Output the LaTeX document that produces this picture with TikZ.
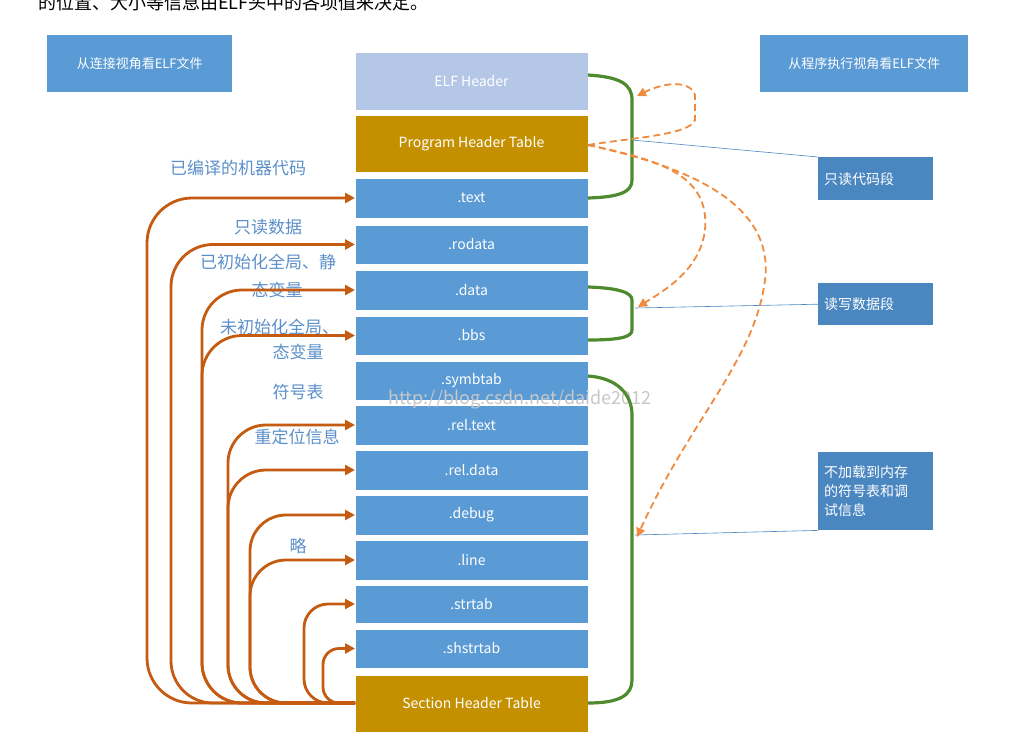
\documentclass[tikz,border=0pt]{standalone}
\usepackage{fontspec}
\setmainfont{Noto Sans CJK SC}
\usetikzlibrary{arrows.meta}
\definecolor{blk}{HTML}{5B9BD5}
\definecolor{lblue}{HTML}{B4C7E7}
\definecolor{gold}{HTML}{C49000}
\definecolor{oarr}{HTML}{C55A11}
\definecolor{odash}{HTML}{F08A3E}
\definecolor{gbr}{HTML}{4E8A2E}
\definecolor{lab}{HTML}{5B8FC9}
\definecolor{sbox}{HTML}{4A86C0}
\tikzset{
  sec/.style={draw=white,line width=0pt,fill=blk,minimum width=233,anchor=north west,text=white,font=\fontsize{14}{14}\selectfont,inner sep=0},
  ttl/.style={fill=blk,minimum width=185,minimum height=57,anchor=north west,text=white,font=\fontsize{13}{13}\selectfont},
  sbx/.style={fill=sbox,anchor=north west,text=white,font=\fontsize{14}{16}\selectfont,inner sep=6,align=left,text width=103},
  lbl/.style={text=lab,font=\fontsize{17}{17}\selectfont,inner sep=0},
  oa/.style={draw=oarr,line width=2.8pt,-{Triangle[length=10pt,width=10pt]}},
  od/.style={draw=odash,line width=1.8pt,dash pattern=on 7pt off 4pt,-{Triangle[length=9pt,width=9pt]}},
  gb/.style={draw=gbr,line width=3.2pt},
  tl/.style={draw=sbox,line width=0.6pt}
}
\begin{document}
\begin{tikzpicture}[x=1pt,y=-1pt]
\useasboundingbox (0,0) rectangle (1035,753);
\node[anchor=west,inner sep=0,font=\fontsize{18}{18}\selectfont] (top) at (38,3) {的位置、大小等信息由ELF头中的各项值来决定。};
\node[ttl] (lv) at (47,35) {从连接视角看ELF文件};
\node[ttl,minimum width=208] (rv) at (760,35) {从程序执行视角看ELF文件};
% labels (behind column)
\node[lbl] (l1) at (238,168) {已编译的机器代码};
\node[lbl] (l2) at (268,227) {只读数据};
\node[lbl,anchor=west] (l3) at (200,262) {已初始化全局、静};
\node[lbl] (l3b) at (277,290) {态变量};
\node[lbl,anchor=west] (l4) at (220,327) {未初始化全局、};
\node[lbl] (l4b) at (298,352) {态变量};
\node[lbl] (l5) at (298,392) {符号表};
\node[lbl] (l6) at (297,437) {重定位信息};
\node[lbl] (l7) at (298,546) {略};
% column
\node[sec,fill=lblue,minimum height=58] (elf) at (355,52) {ELF Header};
\node[sec,fill=gold,minimum height=57] (pht) at (355,115) {Program Header Table};
\node[sec,minimum height=40] (text) at (355,178) {.text};
\node[sec,minimum height=39] (rodata) at (355,225) {.rodata};
\node[sec,minimum height=40] (data) at (355,270) {.data};
\node[sec,minimum height=39] (bbs) at (355,316) {.bbs};
\node[sec,minimum height=39] (symtab) at (355,361) {.symbtab};
\node[sec,minimum height=40] (reltext) at (355,405) {.rel.text};
\node[sec,minimum height=40] (reldata) at (355,450) {.rel.data};
\node[sec,minimum height=40] (debug) at (355,495) {.debug};
\node[sec,minimum height=40] (line) at (355,540) {.line};
\node[sec,minimum height=38] (strtab) at (355,585) {.strtab};
\node[sec,minimum height=39] (shstrtab) at (355,629) {.shstrtab};
\node[sec,fill=gold,minimum height=57] (sht) at (355,675) {Section Header Table};
\node[text=black!22,font=\fontsize{18}{18}\selectfont\rmfamily,inner sep=0] (wm) at (520,400) {http://blog.csdn.net/daide2012};
% left arrows
\coordinate (b) at (355,703);
\foreach \t/\x/\r in {text/147/45,rodata/171/42,data/202/40,bbs/202/40,reltext/228/38,reldata/228/38,debug/250/36,line/250/36,strtab/304/24,shstrtab/323/16}
  \draw[oa,rounded corners=\r] (b) -| (\x,0 |- \t.west) -- (\t.west);
% green brackets
\draw[gb] (588,75) .. controls (620,77) and (632,84) .. (632,100) -- (632,180) .. controls (632,192) and (620,197) .. (588,198);
\draw[gb] (588,287) .. controls (620,288) and (632,293) .. (632,300) -- (632,330) .. controls (632,337) and (620,340) .. (588,340);
\draw[gb] (588,376) .. controls (618,378) and (632,395) .. (632,415) -- (632,680) .. controls (632,695) and (620,703) .. (588,703);
% side boxes
\node[sbx,minimum height=43] (ro) at (818,157) {只读代码段};
\node[sbx,minimum height=42] (rw) at (818,283) {读写数据段};
\node[sbx,minimum height=78,text width=103,font=\fontsize{14}{19}\selectfont] (nl) at (818,452) {不加载到内存\\的符号表和调\\试信息};
\draw[tl] (632,140) -- (ro.north west);
\draw[tl] (635,308) -- (rw.west);
\draw[tl] (635,535) -- (nl.south west);
% dashed arrows
\coordinate (p) at (588,145);
\draw[od] (p) .. controls (630,138) and (690,135) .. (695,120) -- (695,95) .. controls (690,80) and (665,82) .. (637,96);
\draw[od] (p) .. controls (660,160) and (710,175) .. (705,230) .. controls (700,270) and (665,290) .. (638,307);
\draw[od] (p) .. controls (680,165) and (775,200) .. (765,280) .. controls (755,360) and (690,420) .. (637,537);
\end{tikzpicture}
\end{document}
